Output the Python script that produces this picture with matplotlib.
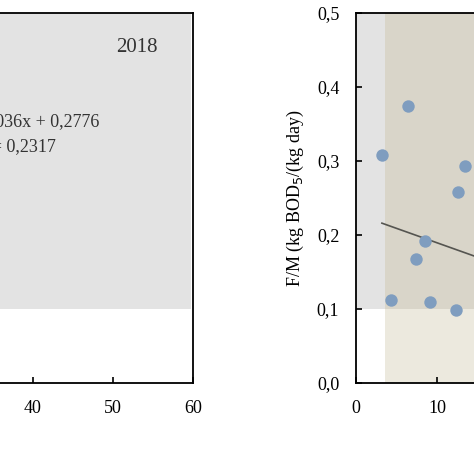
import matplotlib.pyplot as plt
from matplotlib.ticker import FuncFormatter

plt.rcParams["font.family"] = ["Liberation Serif", "DejaVu Serif"]

# right panel scatter (F/M vs x)
fm_x = [3.2, 6.4, 4.3, 8.5, 7.4, 9.1, 12.6, 13.5, 12.4]
fm_y = [0.308, 0.375, 0.112, 0.192, 0.167, 0.110, 0.258, 0.293, 0.099]
trend_x = [3.2, 15.0]
trend_y = [0.216, 0.170]

W = 474.0
fig = plt.figure(figsize=(4.74, 4.74), dpi=100)
comma = FuncFormatter(lambda v, p: f"{v:.1f}".replace(".", ","))

def px_axes(left, top, right, bottom):
    return fig.add_axes([left / W, 1 - bottom / W, (right - left) / W, (bottom - top) / W])

# ── left panel (mostly cropped) ──
axl = px_axes(193 - 480, 13, 193, 383)
axl.set_xlim(0, 60)
axl.set_ylim(0, 0.5)
axl.axhspan(0.1, 0.5, xmin=0, xmax=0.995, color="#e3e3e3", lw=0)
axl.text(53, 0.453, "2018", ha="center", va="center", fontsize=15, color="#333333")
axl.text(48.25, 0.352, "y = -0,0036x + 0,2776", ha="right", va="center", fontsize=13, color="#333333")
axl.text(42.9, 0.320, "R² = 0,2317", ha="right", va="center", fontsize=13, color="#333333")
axl.set_xticks([0, 10, 20, 30, 40, 50, 60])
axl.set_yticks([])

# ── right panel ──
axr = px_axes(356, 13, 356 + 486, 383)
axr.set_xlim(0, 60)
axr.set_ylim(0, 0.5)
axr.axhspan(0.1, 0.5, xmin=0, xmax=3.6 / 60, color="#e3e3e3", lw=0)
axr.axhspan(0.1, 0.5, xmin=3.6 / 60, xmax=1, color="#d9d5c9", lw=0)
axr.axhspan(0.0, 0.1, xmin=3.6 / 60, xmax=1, color="#ece9de", lw=0)
axr.scatter(fm_x, fm_y, s=80, color="#7f9dbf", zorder=3, lw=0)
axr.plot(trend_x, trend_y, color="#555550", lw=1.2, zorder=2)
axr.set_xticks([0, 10, 20, 30, 40, 50, 60])
axr.set_yticks([0, 0.1, 0.2, 0.3, 0.4, 0.5])
axr.yaxis.set_major_formatter(comma)
axr.set_ylabel("F/M (kg BOD$_5$/(kg day)", fontsize=13, labelpad=8)

for ax in (axl, axr):
    ax.tick_params(direction="in", labelsize=13, length=4, width=1.2, pad=12)
    for s in ax.spines.values():
        s.set_linewidth(1.3)

fig.savefig("out.png", dpi=100)
